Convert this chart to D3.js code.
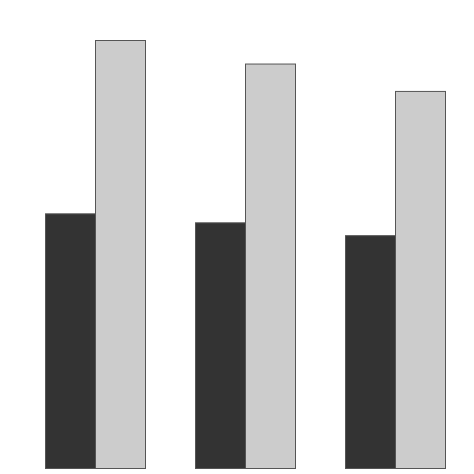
<!DOCTYPE html>
<html>
<head>
  <meta charset="utf-8">
  <script src="https://d3js.org/d3.v7.min.js"></script>
  <style>
    body { margin: 0; background: white; }
  </style>
</head>
<body>
<div id="chart"></div>
<script>
const groups = ["A", "B", "C"];
const series = ["dark", "light"];
const darkValues = [59.5, 57.4, 54.4];
const lightValues = [100, 94.5, 88.1];

const width = 474, height = 474;

const svg = d3.select("#chart")
  .append("svg")
    .attr("width", width)
    .attr("height", height);

const x = d3.scaleBand()
  .domain(groups)
  .range([20, 470])
  .paddingInner(1/3)
  .paddingOuter(1/6);

const xSub = d3.scaleBand()
  .domain(series)
  .range([0, x.bandwidth()]);

const y = d3.scaleLinear()
  .domain([0, 100])
  .range([468.5, 40.5]);

const colors = { dark: "#333333", light: "#cccccc" };

const data = groups.map((g, i) => ({ group: g, dark: darkValues[i], light: lightValues[i] }));

svg.append("g")
  .selectAll("g")
  .data(data)
  .join("g")
    .attr("transform", d => `translate(${x(d.group)},0)`)
  .selectAll("rect")
  .data(d => series.map(s => ({ key: s, value: d[s] })))
  .join("rect")
    .attr("x", d => xSub(d.key) + 0.5)
    .attr("y", d => y(d.value))
    .attr("width", xSub.bandwidth())
    .attr("height", d => y(0) - y(d.value))
    .attr("fill", d => colors[d.key])
    .attr("stroke", "#555555")
    .attr("stroke-width", 1);
</script>
</body>
</html>
